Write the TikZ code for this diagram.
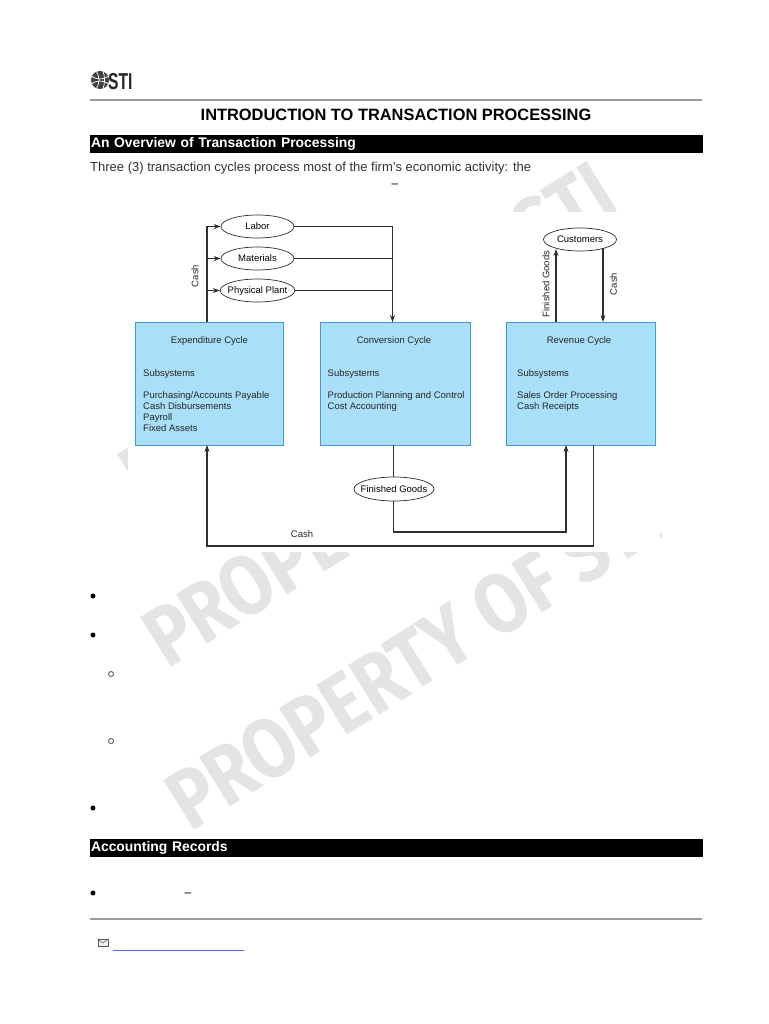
\documentclass[tikz,border=0pt]{standalone}
\usepackage{fontspec}
\usetikzlibrary{shapes.geometric,arrows.meta}
\setmainfont{Liberation Sans}
\newfontfamily\markfont[FakeStretch=0.86]{Fira Sans}
\definecolor{cyclefill}{HTML}{A9DFF9}
\definecolor{cycleedge}{HTML}{3E9BD0}
\definecolor{wmgray}{HTML}{E4E4E4}
\definecolor{flowgray}{HTML}{2E2E2E}
\definecolor{linkblue}{HTML}{5A5AF0}
\newcommand{\pxfont}[1]{\fontsize{#1}{#1}\selectfont}
\begin{document}
\begin{tikzpicture}[x=1pt,y=-1pt]
\tikzstyle{cyclebox}=[draw=cycleedge, fill=cyclefill, line width=0.8pt, minimum width=148pt, minimum height=123pt, inner sep=0pt]
\tikzstyle{resource}=[draw=flowgray, fill=white, ellipse, line width=0.7pt, minimum width=73pt, minimum height=23pt, inner xsep=-3.5pt, inner ysep=0pt, text height=6.5pt, text depth=0.5pt, font=\pxfont{9.5}]
\tikzstyle{line}=[draw=flowgray, -{Stealth[length=7pt,width=5pt]}, line width=1.1pt]
\tikzstyle{plain}=[draw=flowgray, line width=1.1pt]
\tikzstyle{small}=[inner sep=0pt, font=\pxfont{9.5}, text=black!85]
\tikzstyle{listing}=[small, anchor=north west, align=left]
\tikzstyle{bar}=[fill=black, text=white, minimum height=18pt, text width=611pt, inner xsep=1pt, inner ysep=0pt, align=left, font=\pxfont{13.9}\bfseries]
\tikzstyle{rule}=[draw=black!40, line width=2pt]
\tikzstyle{dot}=[circle, fill=black, inner sep=0pt, minimum size=5pt]
\tikzstyle{ring}=[circle, draw=black!60, line width=1pt, fill=white, inner sep=0pt, minimum size=5pt]
\tikzstyle{stamp}=[anchor=base west, rotate=32, text=wmgray, inner sep=0pt, font=\markfont\pxfont{84}\bfseries]

\useasboundingbox (0,0) rectangle (768,1024);
\fill[white] (0,0) rectangle (768,1024);

% Watermark rows
\node[stamp] (markc) at (144,507) {PROPERTY OF STI};
\node[stamp] (markb) at (167,670) {PROPERTY OF STI};
\node[stamp] (marka) at (190,833) {PROPERTY OF STI};
\fill[white] (128,212) rectangle (660,552);
\fill[white] (0,0) rectangle (768,160);
\fill[white] (0,839) rectangle (768,1024);

% Page head
\fill[black!75] (100,80) circle (9);
\draw[white, line width=0.7pt] (91,76) .. controls (97,80) and (103,80) .. (109,76);
\draw[white, line width=0.7pt] (91,84) .. controls (97,80) and (103,80) .. (109,84);
\draw[white, line width=0.7pt] (96,71) .. controls (100,76) and (100,84) .. (96,89);
\draw[white, line width=0.7pt] (103,71) .. controls (105,76) and (105,84) .. (103,89);
\node[inner sep=0pt, anchor=base west, font=\pxfont{23}\bfseries, text=black!85] (logo) at (108,90) {\scalebox{0.68}[1]{STI}};
\coordinate (headleft) at (90,100);
\coordinate (headright) at (702,100);
\draw[rule] (headleft) -- (headright);
\node[inner sep=0pt, font=\pxfont{16.4}\bfseries] (title) at (396,115) {INTRODUCTION TO TRANSACTION PROCESSING};
\node[bar] (overview) at (396.5,144) {An Overview of Transaction Processing};
\node[inner sep=0pt, anchor=base west, font=\pxfont{13}, text=black!80] (intro) at (90,171.5) {Three (3) transaction cycles process most of the firm’s economic activity: the};
\node[inner sep=0pt, font=\pxfont{12}] (introdash) at (395,186) {–};

% Cycles
\node[cyclebox] (expenditure) at (209.5,383.5) {};
\node[cyclebox, minimum width=150pt] (conversion) at (395,383.5) {};
\node[cyclebox, minimum width=149pt] (revenue) at (581,383.5) {};

\node[small] (exptitle) at (209.5,341.5) {Expenditure Cycle};
\node[small] (contitle) at (394,341.5) {Conversion Cycle};
\node[small] (revtitle) at (579,341.5) {Revenue Cycle};

\node[listing] (expsub) at (143,369) {Subsystems};
\node[listing] (consub) at (327.5,369) {Subsystems};
\node[listing] (revsub) at (517,369) {Subsystems};

\node[listing] (explist) at (143,391) {Purchasing/Accounts Payable\\[1.5pt]Cash Disbursements\\[1.5pt]Payroll\\[1.5pt]Fixed Assets};
\node[listing] (conlist) at (327.5,391) {Production Planning and Control\\[1.5pt]Cost Accounting};
\node[listing] (revlist) at (517,391) {Sales Order Processing\\[1.5pt]Cash Receipts};

% Resources
\node[resource] (labor) at (257.5,226.5) {Labor};
\node[resource] (materials) at (257.5,258.5) {Materials};
\node[resource] (plant) at (257.5,290.5) {Physical Plant};
\node[resource] (customers) at (580,239.5) {Customers};
\node[resource, minimum width=80pt, minimum height=24pt, inner xsep=-5pt] (goods) at (394,489) {Finished Goods};

% Turning points
\coordinate (cashup) at (207,322);
\coordinate (cashdown) at (207,445);
\coordinate (convin) at (392.5,322);
\coordinate (convout) at (393.5,445);
\coordinate (goodsin) at (566,445);
\coordinate (cashout) at (593.5,445);
\coordinate (goodsup) at (556,322);
\coordinate (cashin) at (603,322);
\coordinate (custgoods) at (556,249);
\coordinate (custcash) at (603,248);

% Message flow
\draw[line] (cashup) |- (labor.west);
\draw[line] (cashup |- materials) -- (materials.west);
\draw[line] (cashup |- plant) -- (plant.west);
\draw[plain] (labor.east) -| (convin);
\draw[plain] (materials.east) -- (materials.east -| convin);
\draw[plain] (plant.east) -- (plant.east -| convin);
\draw[line] (labor.east -| convin) -- (convin);
\draw[plain] (convout) -- (goods.north -| convout);
\draw[line] (goods.south -| convout) |- (400,532) -| (goodsin);
\draw[line] (cashout) |- (300,546) -| (cashdown);
\draw[line, line width=1.3pt] (goodsup) -- (custgoods);
\draw[line, line width=1.3pt] (custcash) -- (cashin);

% Flow labels
\node[small, rotate=90] (cashleft) at (195,276) {Cash};
\node[small, rotate=90] (goodsright) at (546,284) {Finished Goods};
\node[small, rotate=90] (cashright) at (613.5,284) {Cash};
\node[small] (cashbottom) at (302,534.5) {Cash};

% Bullets
\node[dot] (bulleta) at (93,596) {};
\node[dot] (bulletb) at (93,635) {};
\node[ring] (ringa) at (111,674) {};
\node[ring] (ringb) at (111,741) {};
\node[dot] (bulletc) at (93,808) {};

% Page foot
\node[bar] (records) at (396.5,848) {Accounting Records};
\node[dot] (bulletd) at (93,893) {};
\node[inner sep=0pt, font=\pxfont{12}] (recdash) at (188,895) {–};
\coordinate (footleft) at (90,919);
\coordinate (footright) at (702,919);
\draw[rule] (footleft) -- (footright);
\node[draw=black!65, fill=black!6, line width=0.8pt, minimum width=10pt, minimum height=7.5pt, inner sep=0pt] (mail) at (103,943) {};
\draw[black!65, line width=0.5pt] (mail.north west) -- (mail.center) -- (mail.north east);
\coordinate (linkleft) at (113,950.5);
\coordinate (linkright) at (244,950.5);
\draw[linkblue, line width=1.2pt] (linkleft) -- (linkright);
\end{tikzpicture}
\end{document}
